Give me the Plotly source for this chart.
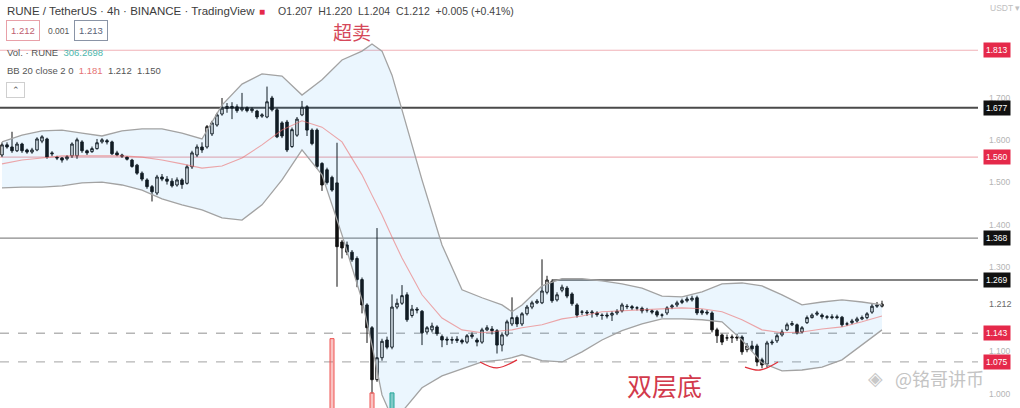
import plotly.graph_objects as go

# ---------------- data ----------------
opens = [1.565,1.589,1.584,1.575,1.591,1.577,1.572,1.577,1.598,1.603,
         1.570,1.560,1.558,1.556,1.563,1.563,1.596,1.575,1.573,1.580,
         1.596,1.599,1.596,1.570,1.565,1.560,1.553,1.541,1.522,1.506,
         1.490,1.475,1.513,1.508,1.503,1.494,1.506,1.498,1.537,1.565,
         1.584,1.584,1.615,1.636,1.662,1.675,1.680,1.679,1.672,1.677,
         1.670,1.669,1.657,1.655,1.700,1.672,1.641,1.643,1.585,1.612,
         1.660,1.679,1.624,1.624,1.545,1.530,1.512,1.499,1.359,1.352,
         1.335,1.320,1.270,1.210,1.156,1.033,1.085,1.127,1.110,1.205,
         1.214,1.234,1.185,1.200,1.195,1.146,1.151,1.158,1.135,1.129,
         1.128,1.129,1.126,1.122,1.135,1.127,1.122,1.151,1.153,1.149,
         1.115,1.139,1.165,1.180,1.165,1.189,1.205,1.215,1.215,1.240,
         1.265,1.222,1.245,1.250,1.236,1.210,1.193,1.193,1.191,1.191,
         1.186,1.186,1.186,1.191,1.196,1.207,1.206,1.203,1.202,1.198,
         1.196,1.194,1.186,1.191,1.205,1.210,1.216,1.220,1.222,1.227,
         1.196,1.193,1.191,1.151,1.139,1.132,1.132,1.134,1.134,1.104,
         1.113,1.113,1.080,1.070,1.120,1.125,1.139,1.151,1.163,1.163,
         1.146,1.168,1.180,1.188,1.186,1.182,1.182,1.182,1.181,1.165,
         1.168,1.172,1.177,1.180,1.193,1.207,1.207]
closes = [1.589,1.584,1.575,1.591,1.575,1.572,1.577,1.603,1.608,1.560,
          1.568,1.558,1.553,1.561,1.591,1.601,1.575,1.570,1.580,1.594,
          1.601,1.596,1.568,1.565,1.562,1.555,1.538,1.522,1.508,1.490,
          1.478,1.513,1.508,1.503,1.492,1.506,1.495,1.537,1.570,1.584,
          1.577,1.632,1.641,1.660,1.676,1.680,1.676,1.670,1.677,1.670,
          1.674,1.655,1.660,1.691,1.672,1.608,1.610,1.577,1.625,1.650,
          1.678,1.624,1.592,1.538,1.494,1.500,1.482,1.348,1.345,1.335,
          1.317,1.270,1.210,1.156,1.033,1.085,1.124,1.110,1.205,1.214,
          1.232,1.175,1.200,1.198,1.144,1.156,1.160,1.142,1.127,1.127,
          1.127,1.126,1.122,1.137,1.139,1.122,1.151,1.156,1.149,1.115,
          1.139,1.170,1.180,1.165,1.189,1.205,1.215,1.219,1.243,1.269,
          1.220,1.234,1.252,1.231,1.213,1.186,1.193,1.191,1.193,1.187,
          1.185,1.184,1.190,1.195,1.210,1.206,1.203,1.203,1.196,1.198,
          1.193,1.186,1.186,1.203,1.208,1.215,1.220,1.224,1.226,1.191,
          1.191,1.191,1.151,1.137,1.122,1.132,1.134,1.132,1.099,1.113,
          1.106,1.075,1.068,1.120,1.122,1.137,1.146,1.163,1.166,1.144,
          1.156,1.180,1.186,1.191,1.182,1.181,1.180,1.180,1.163,1.165,
          1.172,1.177,1.180,1.189,1.207,1.210,1.212]
highs = [1.595,1.595,1.620,1.596,1.594,1.580,1.582,1.607,1.612,1.606,
         1.574,1.563,1.560,1.565,1.595,1.606,1.600,1.578,1.585,1.603,
         1.605,1.603,1.599,1.575,1.568,1.562,1.556,1.544,1.526,1.510,
         1.494,1.518,1.520,1.515,1.510,1.512,1.510,1.542,1.575,1.590,
         1.595,1.636,1.646,1.665,1.700,1.688,1.690,1.685,1.712,1.680,
         1.678,1.672,1.664,1.727,1.705,1.676,1.645,1.648,1.630,1.655,
         1.693,1.683,1.628,1.628,1.548,1.535,1.516,1.594,1.364,1.360,
         1.340,1.325,1.275,1.214,1.160,1.392,1.130,1.135,1.235,1.225,
         1.257,1.240,1.210,1.205,1.198,1.160,1.168,1.162,1.140,1.135,
         1.135,1.136,1.130,1.141,1.145,1.132,1.156,1.162,1.160,1.153,
         1.145,1.175,1.228,1.185,1.193,1.210,1.220,1.224,1.318,1.279,
         1.270,1.240,1.258,1.255,1.240,1.214,1.198,1.198,1.198,1.195,
         1.190,1.192,1.195,1.200,1.215,1.212,1.210,1.207,1.206,1.203,
         1.199,1.198,1.190,1.207,1.212,1.220,1.225,1.230,1.232,1.232,
         1.200,1.198,1.195,1.156,1.142,1.140,1.140,1.142,1.138,1.120,
         1.125,1.118,1.085,1.125,1.128,1.142,1.152,1.168,1.172,1.166,
         1.160,1.185,1.190,1.196,1.190,1.186,1.188,1.187,1.184,1.170,
         1.177,1.182,1.185,1.193,1.212,1.217,1.220]
lows = [1.560,1.580,1.570,1.572,1.570,1.568,1.568,1.574,1.593,1.556,
        1.562,1.553,1.547,1.552,1.558,1.556,1.570,1.565,1.570,1.578,
        1.592,1.590,1.565,1.562,1.558,1.552,1.535,1.518,1.503,1.485,
        1.455,1.470,1.503,1.495,1.488,1.490,1.485,1.495,1.532,1.560,
        1.570,1.580,1.610,1.632,1.658,1.665,1.650,1.665,1.668,1.666,
        1.665,1.650,1.653,1.652,1.668,1.605,1.605,1.572,1.582,1.608,
        1.657,1.610,1.588,1.533,1.480,1.495,1.478,1.253,1.320,1.328,
        1.312,1.252,1.190,1.120,1.000,1.028,1.078,1.105,1.105,1.200,
        1.210,1.170,1.180,1.190,1.115,1.140,1.145,1.137,1.110,1.115,
        1.118,1.120,1.117,1.118,1.130,1.112,1.118,1.148,1.140,1.095,
        1.100,1.135,1.160,1.158,1.160,1.185,1.200,1.212,1.212,1.235,
        1.215,1.218,1.240,1.226,1.208,1.180,1.186,1.184,1.180,1.182,
        1.175,1.178,1.172,1.186,1.192,1.200,1.198,1.197,1.190,1.192,
        1.188,1.181,1.180,1.186,1.200,1.205,1.212,1.216,1.218,1.186,
        1.186,1.186,1.145,1.120,1.115,1.125,1.120,1.125,1.092,1.098,
        1.100,1.065,1.060,1.062,1.115,1.120,1.135,1.148,1.160,1.140,
        1.142,1.165,1.178,1.184,1.176,1.176,1.176,1.176,1.158,1.160,
        1.164,1.168,1.174,1.176,1.189,1.203,1.204]
candle_idx = list(range(len(closes)))

# Bollinger band readings (BB 20 close 2)
band_idx = [0,4,8,12,16,20,24,28,32,36,40,44,48,52,56,60,64,68,72,74,76,78,80,
            84,88,92,96,100,102,104,108,112,116,120,124,128,132,136,140,144,148,
            152,156,160,164,168,172,176]
bb_upper = [1.596,1.612,1.622,1.624,1.617,1.610,1.622,1.627,1.627,1.617,1.603,1.683,
            1.733,1.757,1.752,1.707,1.743,1.790,1.811,1.828,1.811,1.754,1.672,
            1.506,1.352,1.246,1.227,1.210,1.194,1.210,1.255,1.272,1.272,1.267,1.260,
            1.250,1.231,1.229,1.241,1.260,1.262,1.255,1.234,1.210,1.217,1.222,1.217,1.210]
bb_mid = [1.544,1.553,1.558,1.563,1.563,1.563,1.563,1.560,1.553,1.544,1.534,1.539,
          1.558,1.589,1.624,1.646,1.631,1.596,1.518,1.470,1.423,1.371,1.321,
          1.234,1.179,1.151,1.144,1.149,1.151,1.156,1.163,1.177,1.184,1.194,1.196,
          1.198,1.201,1.203,1.201,1.194,1.175,1.151,1.144,1.146,1.153,1.158,1.170,1.184]
bb_lower = [1.487,1.489,1.489,1.492,1.499,1.501,1.494,1.482,1.461,1.447,1.435,1.416,
            1.411,1.447,1.506,1.577,1.518,1.376,1.222,1.115,0.997,0.943,0.957,
            1.014,1.042,1.059,1.075,1.080,1.085,1.092,1.078,1.075,1.099,1.127,1.149,
            1.165,1.177,1.177,1.175,1.170,1.127,1.073,1.054,1.056,1.063,1.080,1.115,1.151]

# volume bars visible at bottom of the pane
vol_idx = [66, 74, 78]
vol_vals = [37.0, 23.7, 23.7]
vol_colors = ["rgba(239,83,80,0.35)", "rgba(239,83,80,0.35)", "rgba(38,166,154,0.55)"]
vol_lines = ["#ef5350", "#ef5350", "#26a69a"]

# horizontal price levels
level_vals = [1.813, 1.677, 1.560, 1.368, 1.269, 1.143, 1.075]
level_text = ["1.813", "1.677", "1.560", "1.368", "1.269", "1.143", "1.075"]
level_start = [None, None, None, None, 110, None, None]
level_color = ["rgba(229,115,125,0.55)", "#4a4a4a", "rgba(229,115,125,0.55)", "#8a8a8a",
               "#5a5a5a", "#b5b5b5", "#b5b5b5"]
level_width = [1.2, 2, 1.2, 1.2, 1.6, 1.3, 1.3]
level_dash = ["solid", "solid", "solid", "solid", "solid", "dash", "dash"]
level_box = ["#e5294a", "#111111", "#e5294a", "#111111", "#111111", "#e5294a", "#e5294a"]

tick_vals = [1.0, 1.1, 1.3, 1.4, 1.5, 1.6, 1.7]
tick_text = ["1.000", "1.100", "1.300", "1.400", "1.500", "1.600", "1.700"]
last_price = 1.212

# double-bottom arcs
arc1_x = [95.6, 99.0, 103.0]
arc1_y = [1.075, 1.061, 1.080]
arc2_x = [148.6, 151.6, 155.2]
arc2_y = [1.063, 1.056, 1.075]

# ---------------- figure ----------------
W, H = 1020, 408
ML, MR = 0, 42
PW = W - ML - MR
X_RANGE = [-0.4, 195.2]
Y_RANGE = [0.966, 1.932]

def px(x):
    return (x - ML) / PW

def py(y):
    return 1 - y / H

fig = go.Figure()

fig.add_trace(go.Scatter(x=band_idx, y=bb_upper, mode="lines",
                         line=dict(color="#a3a3a3", width=1.3), hoverinfo="skip"))
fig.add_trace(go.Scatter(x=band_idx, y=bb_lower, mode="lines", fill="tonexty",
                         fillcolor="rgba(33,150,243,0.09)",
                         line=dict(color="#a3a3a3", width=1.3), hoverinfo="skip"))
fig.add_trace(go.Scatter(x=band_idx, y=bb_mid, mode="lines",
                         line=dict(color="rgba(235,110,110,0.6)", width=1.1), hoverinfo="skip"))

fig.add_trace(go.Bar(x=vol_idx, y=vol_vals, yaxis="y2", width=0.8,
                     marker=dict(color=vol_colors, line=dict(color=vol_lines, width=1)),
                     hoverinfo="skip"))

fig.add_trace(go.Candlestick(
    x=candle_idx, open=opens, high=highs, low=lows, close=closes,
    increasing=dict(line=dict(color="#111111", width=1), fillcolor="#ffffff"),
    decreasing=dict(line=dict(color="#111111", width=1), fillcolor="#111111"),
    whiskerwidth=0))

fig.add_trace(go.Scatter(x=arc1_x, y=arc1_y, mode="lines",
                         line=dict(color="#e0303a", width=1.3, shape="spline"), hoverinfo="skip"))
fig.add_trace(go.Scatter(x=arc2_x, y=arc2_y, mode="lines",
                         line=dict(color="#e0303a", width=1.3, shape="spline"), hoverinfo="skip"))

shapes = []
annotations = []
for v, t, s, c, w, d, b in zip(level_vals, level_text, level_start, level_color,
                               level_width, level_dash, level_box):
    if s is None:
        shapes.append(dict(type="line", xref="paper", yref="y", x0=0, x1=1, y0=v, y1=v,
                           line=dict(color=c, width=w, dash=d), layer="below"))
    else:
        shapes.append(dict(type="line", xref="x", yref="y", x0=s, x1=X_RANGE[1], y0=v, y1=v,
                           line=dict(color=c, width=w, dash=d), layer="below"))
    annotations.append(dict(xref="paper", yref="y", x=1, y=v, xanchor="left", yanchor="middle",
                            xshift=5, text=t, showarrow=False, bgcolor=b, borderpad=2,
                            font=dict(family="Liberation Sans", size=8.5, color="#ffffff")))

annotations.append(dict(xref="paper", yref="y", x=1, y=last_price, xanchor="left", yanchor="middle",
                        xshift=9, text=f"{last_price:.3f}", showarrow=False,
                        font=dict(family="Liberation Sans", size=9, color="#6a6a6a")))
annotations.append(dict(xref="paper", yref="paper", x=px(988), y=py(8), xanchor="left",
                        yanchor="middle", text="USDT ▾", showarrow=False,
                        font=dict(family="Liberation Sans", size=8.5, color="#c0c0c0")))

FONT = "Liberation Sans"
def txt(x, y, text, size=11, color="#444444", anchor="left", family=FONT, **kw):
    annotations.append(dict(xref="paper", yref="paper", x=px(x), y=py(y), xanchor=anchor,
                            yanchor="middle", text=text, showarrow=False,
                            font=dict(family=family, size=size, color=color), **kw))

txt(5, 11, "RUNE / TetherUS · 4h · BINANCE · TradingView", size=11.5, color="#3c3c3c")
txt(262, 11, "■", size=10, color="#e5294a", anchor="center")
txt(276, 11, "O1.207  H1.220  L1.204  C1.212  +0.005 (+0.41%)", size=10.5, color="#444444")
txt(6, 31, "1.212", size=9.5, color="#c06070", bordercolor="#e8a0a8", borderwidth=1, borderpad=4)
txt(46, 31, "0.001", size=8.5, color="#555555")
txt(74, 31, "1.213", size=9.5, color="#5a6478", bordercolor="#8a94a6", borderwidth=1, borderpad=4)
txt(5, 52, "Vol. · RUNE  <span style='color:#4db6ac'>306.2698</span>", size=9.5, color="#555555")
txt(5, 70, "BB 20 close 2 0  <span style='color:#e57373'>1.181</span>  1.212  1.150",
    size=9.5, color="#555555")
txt(6, 90, " ⌃ ", size=9, color="#555555", bordercolor="#cfcfcf", borderwidth=1, borderpad=2)

txt(352, 32, "超卖", size=19, color="#d5485a", anchor="center", family="Noto Sans CJK SC")
txt(664, 385, "双层底", size=25, color="#d23a4c", anchor="center", family="Noto Sans CJK SC")
txt(875, 378, "◈", size=19, color="#c8c8c8", anchor="center", family="DejaVu Sans")
txt(893, 378, "@铭哥讲币", size=18, color="#c4c4c4", family="Noto Sans CJK SC")

fig.update_layout(
    width=W, height=H,
    margin=dict(l=ML, r=MR, t=0, b=0),
    paper_bgcolor="#ffffff", plot_bgcolor="#ffffff",
    showlegend=False,
    xaxis=dict(range=X_RANGE, showgrid=False, zeroline=False, showticklabels=False,
               rangeslider=dict(visible=False), fixedrange=True),
    yaxis=dict(range=Y_RANGE, side="right", showgrid=False, zeroline=False,
               tickvals=tick_vals, ticktext=tick_text, ticks="",
               tickfont=dict(family="Liberation Sans", size=8.5, color="#b4b4b4"),
               ticklabelstandoff=10),
    yaxis2=dict(range=[20, 120], overlaying="y", visible=False),
    shapes=shapes,
    annotations=annotations,
)

fig.write_html("out.html", config={"displayModeBar": False},
               post_script="document.body.style.margin='0';document.body.style.overflow='hidden';")
